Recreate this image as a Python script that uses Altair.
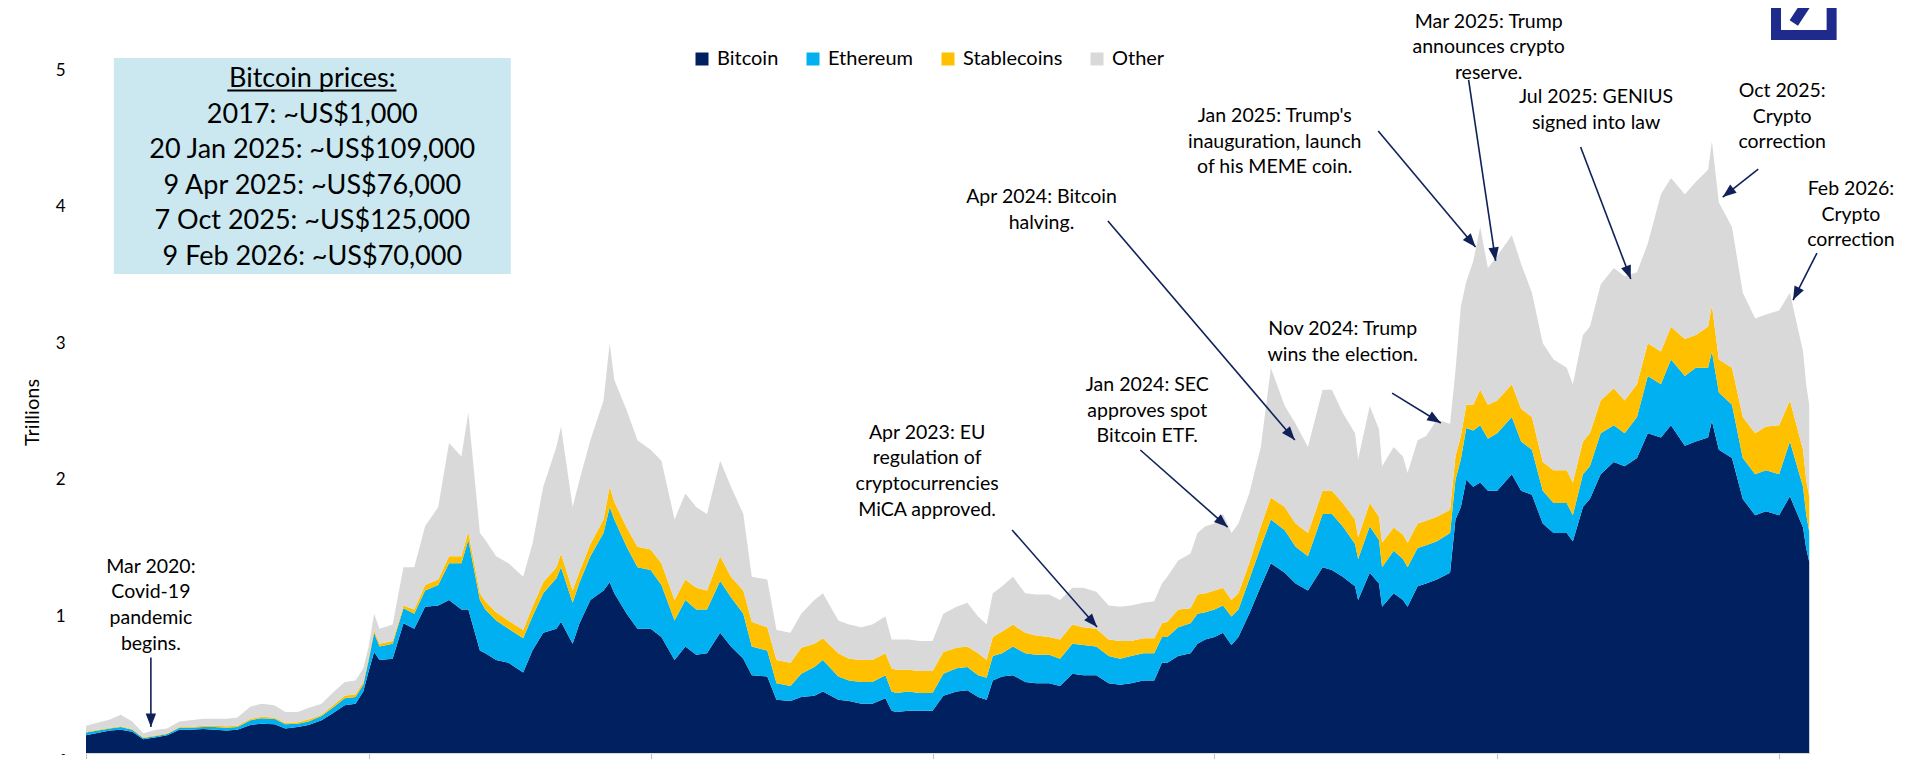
import math
import altair as alt
import pandas as pd

# ---------------- data (trillions US$) ----------------
dates = [
    "2020-01-01", "2020-02-01", "2020-02-15", "2020-03-01", "2020-03-15", "2020-04-01", "2020-04-15",
    "2020-05-01", "2020-05-15", "2020-06-01", "2020-06-15", "2020-07-01", "2020-07-15", "2020-08-01",
    "2020-08-15", "2020-09-01", "2020-09-15", "2020-10-01", "2020-10-15", "2020-11-01", "2020-11-15",
    "2020-12-01", "2020-12-15", "2020-12-25",
    "2021-01-01", "2021-01-08", "2021-01-15", "2021-02-01", "2021-02-15", "2021-03-01", "2021-03-15",
    "2021-04-01", "2021-04-15", "2021-05-01", "2021-05-10", "2021-05-25", "2021-06-01", "2021-06-15",
    "2021-07-01", "2021-07-20", "2021-08-01", "2021-08-15", "2021-09-01", "2021-09-07", "2021-09-22",
    "2021-10-01", "2021-10-15", "2021-11-01", "2021-11-09", "2021-11-15", "2021-12-01", "2021-12-15",
    "2022-01-01", "2022-01-15", "2022-02-01", "2022-02-15", "2022-03-01", "2022-03-15", "2022-04-01",
    "2022-04-15", "2022-05-01", "2022-05-12", "2022-06-01", "2022-06-13", "2022-07-01", "2022-07-15",
    "2022-08-01", "2022-08-12", "2022-09-01", "2022-09-15", "2022-10-01", "2022-10-15", "2022-11-01",
    "2022-11-09", "2022-11-15", "2022-12-01", "2022-12-15",
    "2023-01-01", "2023-01-15", "2023-02-01", "2023-02-15", "2023-03-01", "2023-03-12", "2023-03-20",
    "2023-04-01", "2023-04-15", "2023-05-01", "2023-05-15", "2023-06-01", "2023-06-15", "2023-07-01",
    "2023-07-15", "2023-08-01", "2023-08-17", "2023-09-01", "2023-09-15", "2023-10-01", "2023-10-15",
    "2023-10-25", "2023-11-01", "2023-11-15", "2023-12-01", "2023-12-10", "2023-12-20",
    "2024-01-01", "2024-01-12", "2024-01-23", "2024-02-01", "2024-02-15", "2024-03-01", "2024-03-14",
    "2024-04-01", "2024-04-15", "2024-05-01", "2024-05-20", "2024-06-01", "2024-06-15", "2024-07-01",
    "2024-07-05", "2024-07-20", "2024-08-01", "2024-08-05", "2024-08-20", "2024-09-01", "2024-09-07",
    "2024-09-20", "2024-10-01", "2024-10-15", "2024-11-01", "2024-11-08", "2024-11-15", "2024-11-22",
    "2024-12-01", "2024-12-10", "2024-12-20",
    "2025-01-01", "2025-01-20", "2025-02-01", "2025-02-15", "2025-03-01", "2025-03-15", "2025-04-01",
    "2025-04-09", "2025-04-22", "2025-05-01", "2025-05-15", "2025-06-01", "2025-06-15", "2025-07-01",
    "2025-07-15", "2025-08-01", "2025-08-14", "2025-09-01", "2025-09-15", "2025-10-01", "2025-10-06",
    "2025-10-15", "2025-11-01", "2025-11-15", "2025-12-01", "2025-12-15",
    "2026-01-01", "2026-01-15", "2026-02-01", "2026-02-05", "2026-02-09",
]

bitcoin = [
    0.13, 0.165, 0.17, 0.155, 0.10, 0.115, 0.13, 0.17, 0.17, 0.175, 0.17, 0.165, 0.17, 0.205,
    0.215, 0.21, 0.18, 0.19, 0.205, 0.24, 0.29, 0.35, 0.36, 0.45,
    0.60, 0.74, 0.68, 0.69, 0.95, 0.91, 1.07, 1.08, 1.12, 1.05, 1.05, 0.75, 0.73, 0.68,
    0.66, 0.59, 0.75, 0.88, 0.91, 0.96, 0.80, 0.95, 1.12, 1.19, 1.25, 1.17, 1.02, 0.91,
    0.91, 0.85, 0.68, 0.78, 0.72, 0.73, 0.88, 0.78, 0.69, 0.57, 0.56, 0.39, 0.38, 0.41,
    0.42, 0.45, 0.39, 0.38, 0.36, 0.36, 0.40, 0.31, 0.30, 0.31, 0.31,
    0.31, 0.42, 0.45, 0.46, 0.41, 0.39, 0.53, 0.56, 0.57, 0.52, 0.51, 0.51, 0.49, 0.58,
    0.57, 0.57, 0.51, 0.50, 0.51, 0.53, 0.53, 0.66, 0.66, 0.71, 0.73, 0.80, 0.83,
    0.85, 0.88, 0.79, 0.85, 1.02, 1.22, 1.39, 1.32, 1.24, 1.19, 1.36, 1.34, 1.29, 1.22,
    1.12, 1.32, 1.24, 1.07, 1.17, 1.12, 1.07, 1.22, 1.24, 1.27, 1.32, 1.71, 1.80, 2.00,
    1.95, 1.98, 1.92,
    1.92, 2.04, 1.92, 1.89, 1.68, 1.61, 1.61, 1.55, 1.80, 1.86, 2.04, 2.13, 2.10, 2.16,
    2.34, 2.31, 2.40, 2.25, 2.28, 2.31, 2.43, 2.22, 2.16, 1.86, 1.74, 1.77,
    1.74, 1.88, 1.65, 1.50, 1.40,
]

ethereum = [
    0.02, 0.015, 0.02, 0.015, 0.01, 0.01, 0.01, 0.015, 0.015, 0.015, 0.02, 0.02, 0.02, 0.035,
    0.04, 0.04, 0.03, 0.025, 0.025, 0.03, 0.04, 0.05, 0.05, 0.05,
    0.08, 0.14, 0.10, 0.11, 0.11, 0.11, 0.12, 0.15, 0.27, 0.34, 0.51, 0.37, 0.32, 0.29,
    0.25, 0.25, 0.25, 0.29, 0.37, 0.40, 0.30, 0.30, 0.32, 0.42, 0.55, 0.54, 0.49, 0.45,
    0.43, 0.38, 0.29, 0.34, 0.33, 0.32, 0.38, 0.36, 0.33, 0.21, 0.19, 0.12, 0.11, 0.17,
    0.21, 0.23, 0.17, 0.15, 0.16, 0.16, 0.17, 0.14, 0.14, 0.14, 0.13,
    0.13, 0.16, 0.17, 0.17, 0.16, 0.16, 0.18, 0.17, 0.21, 0.21, 0.21, 0.21, 0.20, 0.22,
    0.22, 0.21, 0.20, 0.19, 0.20, 0.20, 0.20, 0.19, 0.19, 0.21, 0.22, 0.22, 0.20,
    0.20, 0.20, 0.21, 0.20, 0.25, 0.29, 0.32, 0.31, 0.27, 0.25, 0.39, 0.41, 0.37, 0.31,
    0.30, 0.34, 0.32, 0.29, 0.31, 0.30, 0.29, 0.28, 0.28, 0.28, 0.29, 0.29, 0.35, 0.38,
    0.41, 0.42, 0.38,
    0.42, 0.42, 0.36, 0.33, 0.24, 0.22, 0.22, 0.19, 0.24, 0.24, 0.30, 0.27, 0.24, 0.30,
    0.42, 0.39, 0.48, 0.51, 0.54, 0.51, 0.51, 0.42, 0.39, 0.30, 0.30, 0.30,
    0.30, 0.40, 0.30, 0.25, 0.22,
]

stablecoins = [
    0.005, 0.005, 0.005, 0.005, 0.005, 0.005, 0.005, 0.005, 0.005, 0.01, 0.01, 0.01, 0.01, 0.01,
    0.01, 0.01, 0.01, 0.01, 0.015, 0.01, 0.015, 0.02, 0.02, 0.02,
    0.02, 0.02, 0.02, 0.02, 0.02, 0.03, 0.04, 0.04, 0.05, 0.05, 0.06, 0.05, 0.06, 0.06,
    0.06, 0.06, 0.07, 0.08, 0.08, 0.10, 0.09, 0.08, 0.09, 0.10, 0.15, 0.13, 0.14, 0.15,
    0.15, 0.16, 0.15, 0.15, 0.16, 0.14, 0.18, 0.15, 0.17, 0.18, 0.17, 0.17, 0.17, 0.19,
    0.17, 0.16, 0.17, 0.16, 0.16, 0.16, 0.16, 0.17, 0.17, 0.16, 0.16,
    0.16, 0.16, 0.15, 0.15, 0.16, 0.13, 0.14, 0.16, 0.16, 0.15, 0.14, 0.13, 0.14, 0.14,
    0.13, 0.13, 0.12, 0.13, 0.11, 0.11, 0.11, 0.10, 0.11, 0.13, 0.11, 0.14, 0.14,
    0.14, 0.13, 0.12, 0.12, 0.12, 0.15, 0.16, 0.17, 0.17, 0.17, 0.17, 0.17, 0.17, 0.18,
    0.16, 0.17, 0.17, 0.18, 0.17, 0.18, 0.18, 0.18, 0.18, 0.18, 0.17, 0.17, 0.17, 0.17,
    0.19, 0.26, 0.25,
    0.24, 0.24, 0.24, 0.24, 0.21, 0.24, 0.24, 0.24, 0.24, 0.24, 0.24, 0.27, 0.24, 0.24,
    0.24, 0.24, 0.24, 0.27, 0.24, 0.30, 0.34, 0.24, 0.27, 0.30, 0.30, 0.32,
    0.36, 0.30, 0.27, 0.25, 0.26,
]

other = [
    0.045, 0.06, 0.085, 0.055, 0.03, 0.04, 0.035, 0.04, 0.05, 0.05, 0.05, 0.055, 0.06, 0.09,
    0.095, 0.09, 0.08, 0.075, 0.085, 0.08, 0.095, 0.10, 0.10, 0.10,
    0.08, 0.12, 0.11, 0.12, 0.28, 0.31, 0.43, 0.53, 0.83, 0.73, 0.87, 0.44, 0.45, 0.41,
    0.42, 0.39, 0.46, 0.70, 0.88, 0.93, 0.61, 0.67, 0.76, 0.87, 1.05, 0.89, 0.86, 0.78,
    0.73, 0.75, 0.59, 0.63, 0.59, 0.56, 0.70, 0.66, 0.56, 0.33, 0.35, 0.22, 0.22, 0.25,
    0.32, 0.33, 0.24, 0.25, 0.24, 0.26, 0.27, 0.21, 0.22, 0.22, 0.22,
    0.22, 0.28, 0.30, 0.32, 0.27, 0.26, 0.32, 0.33, 0.35, 0.29, 0.30, 0.31, 0.29, 0.27,
    0.29, 0.27, 0.25, 0.25, 0.26, 0.26, 0.27, 0.29, 0.33, 0.36, 0.40, 0.45, 0.49,
    0.49, 0.54, 0.49, 0.51, 0.51, 0.58, 0.95, 0.74, 0.73, 0.63, 0.74, 0.74, 0.66, 0.63,
    0.57, 0.71, 0.64, 0.56, 0.59, 0.57, 0.51, 0.61, 0.62, 0.71, 0.63, 0.63, 0.95, 0.90,
    1.05, 1.19, 1.00,
    1.06, 1.09, 1.06, 0.91, 0.87, 0.81, 0.75, 0.72, 0.78, 0.78, 0.85, 0.88, 0.91, 0.82,
    0.73, 1.15, 1.09, 1.06, 1.12, 1.15, 1.20, 1.15, 1.03, 0.91, 0.84, 0.82,
    0.84, 0.79, 0.72, 0.70, 0.67,
]

series_names = ["Bitcoin", "Ethereum", "Stablecoins", "Other"]
series_colors = ["#002060", "#00B0F0", "#FFC000", "#D9D9D9"]

y_ticks = [0, 1, 2, 3, 4, 5]
x_tick_years = [2020, 2021, 2022, 2023, 2024, 2025, 2026]

price_lines = [
    "Bitcoin prices:",
    "2017: ~US$1,000",
    "20 Jan 2025: ~US$109,000",
    "9 Apr 2025: ~US$76,000",
    "7 Oct 2025: ~US$125,000",
    "9 Feb 2026: ~US$70,000",
]

# annotations: lines, text date, first-line value, arrow start (date, value), arrow tip (date, value)
notes = [
    (["Mar 2020:", "Covid-19", "pandemic", "begins."], "2020-03-25", 1.362,
     "2020-03-25", 0.70, "2020-03-25", 0.19),
    (["Apr 2023: EU", "regulation of", "cryptocurrencies", "MiCA approved."], "2022-12-25", 2.343,
     "2023-04-14", 1.633, "2023-08-02", 0.922),
    (["Jan 2024: SEC", "approves spot", "Bitcoin ETF."], "2023-10-06", 2.694,
     "2023-09-27", 2.218, "2024-01-18", 1.654),
    (["Apr 2024: Bitcoin", "halving."], "2023-05-22", 4.070,
     "2023-08-16", 3.895, "2024-04-14", 2.291),
    (["Nov 2024: Trump", "wins the election."], "2024-06-15", 3.104,
     "2024-08-18", 2.635, "2024-10-20", 2.416),
    (["Jan 2025: Trump's", "inauguration, launch", "of his MEME coin."], "2024-03-19", 4.663,
     "2024-07-31", 4.553, "2024-12-04", 3.704),
    (["Mar 2025: Trump", "announces crypto", "reserve."], "2024-12-21", 5.355,
     "2024-11-25", 4.927, "2024-12-30", 3.602),
    (["Jul 2025: GENIUS", "signed into law"], "2025-05-09", 4.802,
     "2025-04-19", 4.436, "2025-06-23", 3.470),
    (["Oct 2025:", "Crypto", "correction"], "2026-01-05", 4.846,
     "2025-12-05", 4.275, "2025-10-20", 4.070),
    (["Feb 2026:", "Crypto", "correction"], "2026-04-04", 4.129,
     "2026-02-19", 3.660, "2026-01-19", 3.316),
]

# ---------------- layout / style ----------------
FONT = "Lato"
NAVY = "#0F2158"
DB_BLUE = "#1E2A8C"
BOX_FILL = "#CBE8F0"
X0, X1 = "2020-01-01", "2026-02-10"
PLOT_W, PLOT_H = 1724, 683
LINE_STEP = 0.187
BOX_STEP = 0.26

x_scale = alt.Scale(
    type="utc",
    domain=[alt.DateTime(year=2020, month=1, date=1, utc=True),
            alt.DateTime(year=2026, month=2, date=10, utc=True)],
    nice=False,
)
y_scale = alt.Scale(domain=[0, 5], nice=False, zero=True)

x_axis = alt.Axis(
    values=[alt.DateTime(year=y, month=1, date=1, utc=True) for y in x_tick_years],
    labels=False, title=None, grid=False, domain=True, domainColor="#D9D9D9",
    ticks=True, tickColor="#BFBFBF", tickSize=8, tickWidth=1,
)
y_axis = alt.Axis(
    values=y_ticks, format="d",
    labelExpr="datum.value == 0 ? '-' : datum.label",
    grid=False, domain=False, ticks=False, labelPadding=21,
    labelFont=FONT, labelColor="#000000",
    labelFontSize={"condition": {"test": "datum.value == 0", "value": 12}, "value": 17},
    title="Trillions", titleFont=FONT, titleFontSize=20, titleFontWeight="normal",
    titleColor="#000000", titleAngle=270, titleX=-54, titleY=342,
    titleAlign="center", titleBaseline="middle",
)


def X(field):
    return alt.X(field, scale=x_scale, axis=x_axis)


def Y(field, **kw):
    return alt.Y(field, scale=y_scale, axis=y_axis, **kw)


# stacked areas
rows = []
for i, d in enumerate(dates):
    for k, vals in enumerate([bitcoin, ethereum, stablecoins, other]):
        rows.append({"date": d, "series": series_names[k], "rank": k, "value": vals[i]})
df = pd.DataFrame(rows)

area = alt.Chart(df).mark_area(interpolate="linear").encode(
    x=X("date:T"),
    y=Y("value:Q", stack="zero"),
    color=alt.Color(
        "series:N",
        scale=alt.Scale(domain=series_names, range=series_colors),
        legend=alt.Legend(
            orient="none", legendX=606, legendY=-21, direction="horizontal", title=None,
            symbolType="square", symbolSize=169, symbolStrokeWidth=0, symbolOpacity=1,
            labelFont=FONT, labelFontSize=20, labelColor="#000000",
            labelOffset=5, columnPadding=24,
        ),
    ),
    order=alt.Order("rank:Q", sort="ascending"),
)

# Bitcoin prices box
box_df = pd.DataFrame([{"date": "2020-02-06", "date2": "2021-07-04", "value": 5.088, "value2": 3.507}])
box = alt.Chart(box_df).mark_rect(color=BOX_FILL).encode(
    x=X("date:T"), x2="date2:T", y=Y("value:Q"), y2="value2:Q"
)
box_text_df = pd.DataFrame(
    [{"date": "2020-10-20", "value": 4.934 - j * BOX_STEP, "text": t} for j, t in enumerate(price_lines)]
)
box_text = alt.Chart(box_text_df).mark_text(
    font=FONT, fontSize=27, align="center", baseline="middle", color="#000000"
).encode(x=X("date:T"), y=Y("value:Q"), text="text:N")
underline_df = pd.DataFrame([{"date": "2020-07-02", "date2": "2021-02-06", "value": 4.85, "value2": 4.85}])
underline = alt.Chart(underline_df).mark_rule(color="#000000", strokeWidth=1.8).encode(
    x=X("date:T"), x2="date2:T", y=Y("value:Q"), y2="value2:Q"
)

# annotations
px_per_day = PLOT_W / (pd.Timestamp(X1) - pd.Timestamp(X0)).days
px_per_unit = PLOT_H / 5.0


def heading(d0, v0, d1, v1):
    dx = (pd.Timestamp(d1) - pd.Timestamp(d0)).days * px_per_day
    dy = -(v1 - v0) * px_per_unit
    return math.degrees(math.atan2(dx, -dy)) % 360


text_rows, arrow_rows = [], []
for lines, td, tv, sd, sv, ed, ev in notes:
    for j, line in enumerate(lines):
        text_rows.append({"date": td, "value": tv - j * LINE_STEP, "text": line})
    arrow_rows.append({"date": sd, "value": sv, "date2": ed, "value2": ev,
                       "angle": heading(sd, sv, ed, ev)})
text_df = pd.DataFrame(text_rows)
arrow_df = pd.DataFrame(arrow_rows)

ann_text = alt.Chart(text_df).mark_text(
    font=FONT, fontSize=19.5, align="center", baseline="middle", color="#000000"
).encode(x=X("date:T"), y=Y("value:Q"), text="text:N")

arrow_lines = alt.Chart(arrow_df).mark_rule(color=NAVY, strokeWidth=1.6).encode(
    x=X("date:T"), x2="date2:T", y=Y("value:Q"), y2="value2:Q"
)
ARROW_PATH = "M0,0 L0.65,1.7 L-0.65,1.7 Z"
arrow_heads = alt.Chart(arrow_df).mark_point(
    shape=ARROW_PATH, filled=True, size=256, color=NAVY, opacity=1, strokeWidth=0
).encode(x=X("date2:T"), y=Y("value2:Q"), angle=alt.Angle("angle:Q", scale=None))

# logo (square frame with slash)
logo_df = pd.DataFrame([{"date": "2025-12-28", "date2": "2026-03-10", "value": 5.256, "value2": 5.75}])
logo_frame = alt.Chart(logo_df).mark_rect(fill="transparent", stroke=DB_BLUE, strokeWidth=10).encode(
    x=X("date:T"), x2="date2:T", y=Y("value:Q"), y2="value2:Q"
)
slash_df = pd.DataFrame([{"date": "2026-01-20", "date2": "2026-02-17", "value": 5.344, "value2": 5.586}])
logo_slash = alt.Chart(slash_df).mark_rule(color=DB_BLUE, strokeWidth=10).encode(
    x=X("date:T"), x2="date2:T", y=Y("value:Q"), y2="value2:Q"
)

chart = alt.layer(
    area, box, box_text, underline, ann_text, arrow_lines, arrow_heads, logo_frame, logo_slash
).properties(
    width=PLOT_W,
    height=PLOT_H,
    autosize=alt.AutoSizeParams(type="none"),
    padding={"left": 78, "top": 62, "right": 94, "bottom": 6},
    background="#FFFFFF",
).configure_view(stroke=None)

chart.save("out.html", embed_options={"renderer": "svg", "actions": False})
